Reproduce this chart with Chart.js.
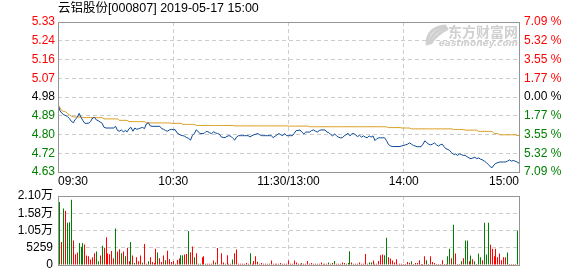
<!DOCTYPE html>
<html>
<head>
<meta charset="utf-8">
<script src="https://cdn.jsdelivr.net/npm/chart.js@4.4.0/dist/chart.umd.min.js"></script>
<style>
  html, body { margin: 0; padding: 0; background: #fff; overflow: hidden; }
  #wrap { position: relative; width: 578px; height: 276px; }
  canvas { position: absolute; left: 0; }
  #price { top: 0; }
  #vol { top: 180px; }
</style>
</head>
<body>
<div id="wrap">
  <canvas id="price" width="578" height="192"></canvas>
  <canvas id="vol" width="578" height="96"></canvas>
</div>
<script>
// 标题和基准
const chartTitle = '云铝股份[000807] 2019-05-17 15:00';
const prevClose = 4.98;
const limitPct = 7.09;

// 时间刻度 (分钟序号)
const tickMinutes = [0, 60, 120, 180, 240];
const timeLabels = ['09:30', '10:30', '11:30/13:00', '14:00', '15:00'];

// 左右坐标标签 (从上到下)
const priceLabels = ['5.33', '5.24', '5.16', '5.07', '4.98', '4.89', '4.80', '4.72', '4.63'];
const pctLabels = ['7.09 %', '5.32 %', '3.55 %', '1.77 %', '0.00 %', '1.77 %', '3.55 %', '5.32 %', '7.09 %'];
const volLabels = ['0', '5259', '1.05万', '1.58万', '2.10万'];
const volStep = 5259;

// 每分钟价格
const price = [
  4.946, 4.915, 4.904, 4.896, 4.893, 4.887, 4.878, 4.865, 4.859, 4.875,
  4.884, 4.903, 4.884, 4.868, 4.856, 4.856, 4.857, 4.865, 4.881, 4.884,
  4.872, 4.868, 4.862, 4.856, 4.837, 4.834, 4.834, 4.834, 4.834, 4.834,
  4.842, 4.822, 4.819, 4.825, 4.816, 4.822, 4.816, 4.831, 4.837, 4.819,
  4.834, 4.828, 4.831, 4.834, 4.837, 4.831, 4.853, 4.859, 4.844, 4.842,
  4.842, 4.842, 4.842, 4.842, 4.831, 4.828, 4.822, 4.819, 4.825, 4.828,
  4.826, 4.826, 4.811, 4.805, 4.800, 4.798, 4.795, 4.789, 4.785, 4.777,
  4.800, 4.808, 4.826, 4.816, 4.808, 4.808, 4.808, 4.817, 4.817, 4.811,
  4.808, 4.816, 4.811, 4.808, 4.805, 4.792, 4.789, 4.789, 4.795, 4.798,
  4.795, 4.786, 4.777, 4.792, 4.798, 4.798, 4.798, 4.798, 4.798, 4.798,
  4.792, 4.798, 4.802, 4.805, 4.808, 4.802, 4.798, 4.798, 4.798, 4.798,
  4.798, 4.798, 4.789, 4.795, 4.802, 4.808, 4.802, 4.798, 4.808, 4.798,
  4.798, 4.798, 4.798, 4.809, 4.822, 4.822, 4.825, 4.814, 4.806, 4.815,
  4.815, 4.815, 4.822, 4.825, 4.819, 4.815, 4.822, 4.825, 4.825, 4.825,
  4.815, 4.812, 4.803, 4.797, 4.806, 4.798, 4.791, 4.788, 4.788, 4.797,
  4.803, 4.809, 4.797, 4.806, 4.809, 4.800, 4.794, 4.800, 4.791, 4.797,
  4.791, 4.788, 4.797, 4.791, 4.797, 4.775, 4.784, 4.788, 4.788, 4.788,
  4.788, 4.775, 4.757, 4.750, 4.747, 4.747, 4.747, 4.747, 4.747, 4.750,
  4.752, 4.755, 4.758, 4.764, 4.758, 4.752, 4.749, 4.746, 4.746, 4.746,
  4.758, 4.774, 4.765, 4.758, 4.755, 4.758, 4.764, 4.755, 4.749, 4.755,
  4.758, 4.746, 4.736, 4.733, 4.727, 4.718, 4.709, 4.712, 4.705, 4.712,
  4.709, 4.705, 4.705, 4.699, 4.693, 4.690, 4.693, 4.696, 4.690, 4.693,
  4.687, 4.684, 4.678, 4.671, 4.662, 4.653, 4.647, 4.660, 4.668, 4.671,
  4.674, 4.674, 4.674, 4.674, 4.678, 4.684, 4.678, 4.681, 4.678, 4.674,
  4.668
];

// 每分钟均价
const avgPrice = [
  4.943, 4.930, 4.915, 4.912, 4.910, 4.902, 4.895, 4.890, 4.886, 4.886,
  4.886, 4.886, 4.886, 4.883, 4.883, 4.883, 4.883, 4.883, 4.883, 4.883,
  4.883, 4.883, 4.883, 4.883, 4.877, 4.877, 4.877, 4.877, 4.877, 4.877,
  4.877, 4.877, 4.870, 4.870, 4.870, 4.870, 4.870, 4.864, 4.864, 4.864,
  4.864, 4.864, 4.864, 4.864, 4.864, 4.864, 4.858, 4.858, 4.858, 4.858,
  4.858, 4.858, 4.858, 4.858, 4.858, 4.858, 4.858, 4.858, 4.858, 4.856,
  4.856, 4.856, 4.856, 4.856, 4.856, 4.851, 4.851, 4.851, 4.851, 4.851,
  4.851, 4.851, 4.846, 4.846, 4.846, 4.846, 4.846, 4.846, 4.846, 4.846,
  4.846, 4.846, 4.846, 4.846, 4.846, 4.846, 4.846, 4.846, 4.846, 4.846,
  4.846, 4.846, 4.844, 4.844, 4.844, 4.844, 4.844, 4.844, 4.844, 4.844,
  4.844, 4.844, 4.844, 4.844, 4.844, 4.844, 4.844, 4.844, 4.844, 4.844,
  4.844, 4.844, 4.844, 4.844, 4.844, 4.844, 4.844, 4.844, 4.844, 4.844,
  4.843, 4.843, 4.843, 4.843, 4.843, 4.843, 4.843, 4.843, 4.843, 4.843,
  4.843, 4.840, 4.840, 4.840, 4.840, 4.840, 4.840, 4.840, 4.840, 4.840,
  4.840, 4.840, 4.840, 4.840, 4.840, 4.840, 4.840, 4.840, 4.840, 4.840,
  4.840, 4.840, 4.840, 4.840, 4.840, 4.840, 4.840, 4.840, 4.840, 4.840,
  4.840, 4.840, 4.840, 4.840, 4.840, 4.840, 4.840, 4.840, 4.840, 4.840,
  4.840, 4.840, 4.836, 4.836, 4.836, 4.836, 4.836, 4.836, 4.836, 4.834,
  4.834, 4.834, 4.834, 4.834, 4.830, 4.830, 4.830, 4.830, 4.830, 4.830,
  4.830, 4.830, 4.830, 4.830, 4.830, 4.830, 4.830, 4.830, 4.830, 4.830,
  4.830, 4.830, 4.830, 4.830, 4.830, 4.830, 4.827, 4.827, 4.827, 4.827,
  4.827, 4.827, 4.824, 4.824, 4.824, 4.824, 4.824, 4.824, 4.824, 4.818,
  4.818, 4.818, 4.818, 4.818, 4.818, 4.818, 4.818, 4.808, 4.808, 4.808,
  4.802, 4.802, 4.802, 4.802, 4.802, 4.802, 4.802, 4.802, 4.802, 4.799,
  4.799
];

// 每分钟成交量 (手)
const volume = [
  0, 19190, 7010, 17240, 16560, 12860, 13050, 19870, 7500, 3310,
  3800, 6720, 5550, 6720, 6230, 2920, 2630, 1650, 2340, 3600,
  4090, 1170, 2920, 5840, 5260, 8470, 3510, 3310, 4290, 2050,
  11100, 4090, 4770, 3600, 4090, 2630, 5260, 1170, 7010, 2920,
  580, 2340, 1170, 2920, 680, 6430, 390, 1170, 2340, 880,
  580, 4970, 3800, 2050, 880, 2920, 1460, 4380, 1750, 880,
  1190, 400, 1490, 1980, 2970, 2970, 3170, 3370, 10400, 3870,
  5650, 2380, 3560, 400, 400, 2380, 2670, 400, 400, 400,
  400, 1390, 790, 5150, 200, 3560, 790, 400, 2970, 400,
  400, 1680, 3560, 4750, 400, 400, 400, 400, 590, 400,
  3560, 400, 1190, 2670, 990, 400, 590, 400, 400, 400,
  400, 1390, 400, 400, 400, 400, 590, 400, 400, 400,
  1390, 400, 400, 1390, 790, 400, 400, 590, 400, 400,
  1190, 400, 590, 400, 400, 400, 400, 790, 400, 400,
  400, 790, 400, 590, 1190, 400, 400, 400, 790, 590,
  400, 590, 4160, 790, 400, 400, 400, 790, 400, 400,
  3370, 400, 790, 790, 1390, 400, 400, 1190, 2970, 3170,
  2970, 8320, 2380, 1980, 1390, 790, 1780, 200, 400, 400,
  290, 290, 880, 680, 1170, 290, 580, 580, 1460, 290,
  290, 2630, 1460, 290, 2630, 880, 580, 290, 290, 290,
  1460, 290, 290, 2630, 4970, 2050, 12270, 3510, 290, 290,
  1170, 2050, 7500, 7500, 1170, 2920, 1750, 1170, 290, 3510,
  2340, 1460, 12860, 3210, 12860, 6140, 4970, 2630, 4970, 2340,
  3510, 1460, 2340, 2340, 3800, 290, 290, 290, 290, 10520,
  0
];

// 成交方向: 1 上涨(红), -1 下跌(绿)
const volSide = [
  -1, -1, 1, -1, 1, -1, -1, -1, 1, 1,
  1, -1, -1, -1, 1, 1, 1, 1, 1, 1,
  -1, -1, 1, -1, 1, 1, 1, 1, 1, 1,
  -1, 1, 1, -1, 1, -1, 1, 1, -1, 1,
  -1, 1, 1, 1, -1, 1, 1, -1, 1, 1,
  1, 1, -1, 1, 1, 1, -1, 1, 1, 1,
  1, -1, 1, 1, -1, -1, 1, 1, -1, 1,
  1, -1, 1, -1, -1, 1, 1, -1, 1, 1,
  1, 1, -1, 1, 1, 1, 1, -1, 1, 1,
  1, -1, 1, 1, 1, 1, 1, 1, 1, 1,
  -1, 1, 1, 1, 1, -1, 1, 1, 1, 1,
  -1, 1, 1, 1, 1, -1, 1, 1, 1, 1,
  1, 1, 1, 1, 1, 1, 1, -1, 1, 1,
  1, 1, 1, 1, 1, -1, 1, 1, 1, 1,
  1, -1, 1, 1, -1, 1, 1, 1, 1, 1,
  -1, -1, -1, 1, 1, -1, 1, 1, 1, 1,
  1, 1, -1, -1, 1, 1, 1, 1, 1, 1,
  -1, -1, 1, 1, 1, 1, 1, 1, 1, 1,
  1, 1, 1, 1, -1, 1, 1, 1, 1, 1,
  1, 1, -1, 1, 1, 1, 1, -1, 1, 1,
  1, 1, 1, -1, -1, 1, -1, 1, 1, 1,
  -1, 1, -1, -1, 1, -1, 1, -1, 1, -1,
  -1, 1, -1, -1, -1, 1, 1, 1, 1, 1,
  1, 1, 1, 1, -1, 1, 1, 1, 1, -1,
  1
];

const FONT = '"Liberation Sans", "Noto Sans CJK SC", sans-serif';
const RED = '#ff0000';
const GREEN = '#008000';
const GRID = '#cccccc';
const BLUE = '#0a4896';
const GOLD = '#d99c1c';
const CLEAR = 'rgba(0,0,0,0)';

const yMin = prevClose * (1 - limitPct / 100);
const yMax = prevClose * (1 + limitPct / 100);
const yStep = (yMax - yMin) / (priceLabels.length - 1);

const isEdge = (v) => v === tickMinutes[0] || v === tickMinutes[tickMinutes.length - 1];
const sideColor = (v) => Math.abs(v - prevClose) < 1e-3 ? '#000' : (v > prevClose ? RED : GREEN);
const xGridColor = (c) => (!c.tick || isEdge(c.tick.value)) ? CLEAR : GRID;

// 外框
const framePlugin = {
  id: 'frame',
  afterDraw(chart) {
    const { ctx, chartArea: a } = chart;
    ctx.save();
    ctx.strokeStyle = '#959595';
    ctx.lineWidth = 1;
    ctx.strokeRect(Math.round(a.left) + 0.5, Math.round(a.top) + 0.5, Math.round(a.width), Math.round(a.height));
    ctx.restore();
  }
};

// 水印
const watermarkPlugin = {
  id: 'watermark',
  beforeDatasetsDraw(chart) {
    const { ctx, chartArea: a } = chart;
    const r = a.right, t = a.top;
    ctx.save();
    ctx.fillStyle = '#d0d0d0';
    ctx.strokeStyle = '#d0d0d0';
    // logo
    ctx.lineCap = 'round';
    ctx.lineWidth = 3;
    [[0, 0], [5, 3], [10, 6]].forEach(([dx, dy]) => {
      ctx.beginPath();
      ctx.moveTo(r - 92 + dx * 0.4, t + 22 - dy * 0.2);
      ctx.quadraticCurveTo(r - 92 + dx, t + 6 + dy, r - 74 + dx * 0.2, t + 4 + dy * 0.5);
      ctx.stroke();
    });
    ctx.textAlign = 'right';
    ctx.textBaseline = 'alphabetic';
    ctx.font = 'bold 14px "Noto Sans CJK SC"';
    ctx.fillText('东方财富网', r - 1, t + 15);
    ctx.font = 'bold italic 9px "DejaVu Sans"';
    ctx.fillText('eastmoney.com', r - 1, t + 24);
    ctx.restore();
  }
};

// 柱子对齐到整像素
const crispBars = {
  id: 'crispBars',
  beforeDatasetsDraw(chart) {
    const ctx = chart.ctx;
    const rect = CanvasRenderingContext2D.prototype.rect;
    ctx.rect = function (x, y, w, h) {
      rect.call(this, Math.round(x), y, Math.max(1, Math.round(w)), h);
    };
  },
  afterDatasetsDraw(chart) {
    delete chart.ctx.rect;
  }
};

const tickFont = { family: FONT, size: 12, lineHeight: 1 };

new Chart(document.getElementById('price'), {
  type: 'line',
  data: {
    datasets: [
      {
        label: '价格',
        data: price.map((v, i) => ({ x: i, y: v })),
        borderColor: BLUE,
        borderWidth: 1,
        pointRadius: 0,
        tension: 0,
        order: 1
      },
      {
        label: '均价',
        data: avgPrice.map((v, i) => ({ x: i, y: v })),
        borderColor: GOLD,
        borderWidth: 1,
        pointRadius: 0,
        tension: 0,
        order: 2
      }
    ]
  },
  options: {
    responsive: false,
    animation: false,
    devicePixelRatio: 1,
    plugins: {
      legend: { display: false },
      tooltip: { enabled: false },
      title: {
        display: true,
        text: chartTitle,
        align: 'start',
        fullSize: false,
        color: '#000',
        font: { family: FONT, size: 12.5, weight: 'normal', lineHeight: 1.2 },
        padding: { top: 1.5, bottom: 5.5 }
      }
    },
    scales: {
      x: {
        type: 'linear',
        offset: false,
        min: tickMinutes[0],
        max: tickMinutes[tickMinutes.length - 1],
        afterBuildTicks: (s) => { s.ticks = tickMinutes.map((v) => ({ value: v })); },
        afterFit: (s) => { s.height = 20; },
        ticks: {
          align: 'inner',
          autoSkip: false,
          maxRotation: 0,
          padding: 4,
          color: '#000',
          font: tickFont,
          callback: (v) => timeLabels[tickMinutes.indexOf(v)]
        },
        grid: { offset: false, drawTicks: false, color: xGridColor },
        border: { display: false, dash: [4, 3] }
      },
      y: {
        position: 'left',
        min: yMin,
        max: yMax,
        afterBuildTicks: (s) => { s.ticks = priceLabels.map((_, i) => ({ value: yMin + i * yStep })); },
        afterFit: (s) => { s.width = 58; },
        ticks: {
          padding: 3,
          font: tickFont,
          color: (c) => sideColor(c.tick.value),
          callback: (v, i) => priceLabels[priceLabels.length - 1 - i]
        },
        grid: {
          drawTicks: false,
          color: (c) => (c.index === 0 || c.index === priceLabels.length - 1) ? CLEAR : GRID
        },
        border: { display: false, dash: [4, 3] }
      },
      y2: {
        position: 'right',
        min: yMin,
        max: yMax,
        afterBuildTicks: (s) => { s.ticks = pctLabels.map((_, i) => ({ value: yMin + i * yStep })); },
        afterFit: (s) => { s.width = 59; },
        ticks: {
          padding: 5,
          font: tickFont,
          color: (c) => sideColor(c.tick.value),
          callback: (v, i) => pctLabels[pctLabels.length - 1 - i]
        },
        grid: { display: false, drawTicks: false },
        border: { display: false }
      }
    }
  },
  plugins: [watermarkPlugin, framePlugin]
});

new Chart(document.getElementById('vol'), {
  type: 'bar',
  data: {
    datasets: [{
      label: '成交量',
      data: volume.map((v, i) => ({ x: i, y: v })),
      backgroundColor: volSide.map((s) => s > 0 ? RED : GREEN),
      barThickness: 1,
      inflateAmount: 0
    }]
  },
  options: {
    responsive: false,
    animation: false,
    devicePixelRatio: 1,
    layout: { padding: { top: 16, bottom: 6, right: 59 } },
    plugins: { legend: { display: false }, tooltip: { enabled: false } },
    scales: {
      x: {
        type: 'linear',
        offset: false,
        min: tickMinutes[0],
        max: tickMinutes[tickMinutes.length - 1],
        afterBuildTicks: (s) => { s.ticks = tickMinutes.map((v) => ({ value: v })); },
        afterFit: (s) => { s.height = 0; },
        ticks: { display: false },
        grid: { offset: false, drawTicks: false, color: xGridColor },
        border: { display: false, dash: [4, 3] }
      },
      y: {
        min: 0,
        max: volStep * (volLabels.length - 1),
        afterBuildTicks: (s) => { s.ticks = volLabels.map((_, i) => ({ value: i * volStep })); },
        afterFit: (s) => { s.width = 58; },
        ticks: {
          padding: 5,
          color: '#000',
          font: tickFont,
          callback: (v, i) => volLabels[i]
        },
        grid: {
          drawTicks: false,
          color: (c) => (c.index === 0 || c.index === volLabels.length - 1) ? CLEAR : GRID
        },
        border: { display: false, dash: [4, 3] }
      }
    }
  },
  plugins: [crispBars, framePlugin]
});
</script>
</body>
</html>
